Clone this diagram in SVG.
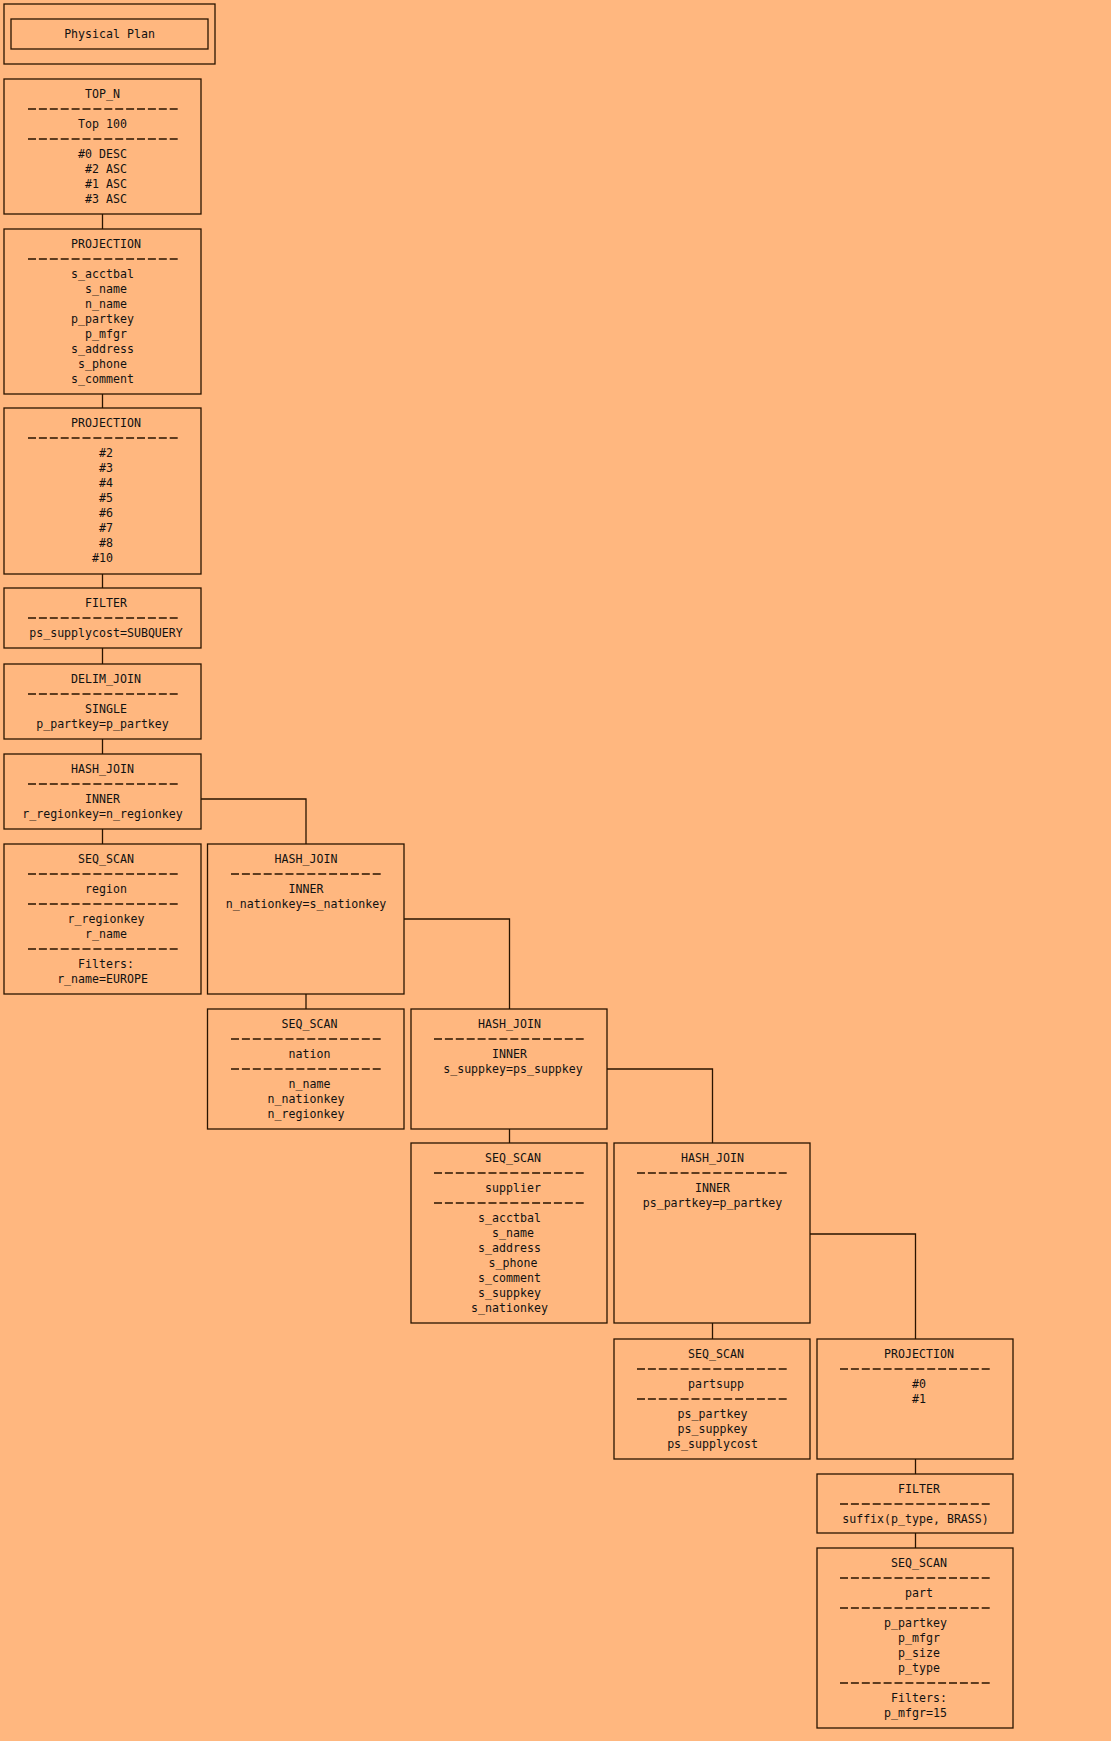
<svg xmlns="http://www.w3.org/2000/svg" width="1111" height="1741" viewBox="0 0 1111 1741">
<style>
.b{fill:none;stroke:#2a1400;stroke-width:1.3}
.s{stroke:#2a1400;stroke-width:1.3;stroke-dasharray:8 2.9}
.c{fill:none;stroke:#2a1400;stroke-width:1.3}
text{font-family:"DejaVu Sans Mono","Liberation Mono",monospace;font-size:11.6px;fill:#111;text-anchor:middle}
</style>
<rect width="1111" height="1741" fill="#FFB77F"/>
<g id="connectors">
<path class="c" d="M102.5 214V229M102.5 394V408M102.5 574V588M102.5 648V664M102.5 739V754M102.5 829V844M201 799H306V844M306 994V1009M404 919H509.5V1009M509.5 1129V1143M607 1069H712.5V1143M712.5 1323V1339M810 1234H915.5V1339M915.5 1459V1474M915.5 1533V1548"/>
</g>
<g id="title"><rect class="b" x="4" y="4" width="211" height="60"/><rect class="b" x="11" y="19" width="197" height="30"/><text x="109.5" y="38">Physical Plan</text></g>
<g id="topn"><rect class="b" x="4" y="79" width="197" height="135"/>
<text x="102.5" y="98">TOP_N</text><line class="s" x1="28" x2="178" y1="109" y2="109"/><text x="102.5" y="128">Top 100</text><line class="s" x1="28" x2="178" y1="139" y2="139"/>
<text x="102.5" y="158">#0 DESC</text><text x="106" y="173">#2 ASC</text><text x="106" y="188">#1 ASC</text><text x="106" y="203">#3 ASC</text></g>
<g id="proj1"><rect class="b" x="4" y="229" width="197" height="165"/>
<text x="106" y="248">PROJECTION</text><line class="s" x1="28" x2="178" y1="259" y2="259"/>
<text x="102.5" y="278">s_acctbal</text><text x="106" y="293">s_name</text><text x="106" y="308">n_name</text><text x="102.5" y="323">p_partkey</text><text x="106" y="338">p_mfgr</text><text x="102.5" y="353">s_address</text><text x="102.5" y="368">s_phone</text><text x="102.5" y="383">s_comment</text></g>
<g id="proj2"><rect class="b" x="4" y="408" width="197" height="166"/>
<text x="106" y="427">PROJECTION</text><line class="s" x1="28" x2="178" y1="438" y2="438"/>
<text x="106" y="457">#2</text><text x="106" y="472">#3</text><text x="106" y="487">#4</text><text x="106" y="502">#5</text><text x="106" y="517">#6</text><text x="106" y="532">#7</text><text x="106" y="547">#8</text><text x="102.5" y="562">#10</text></g>
<g id="filter1"><rect class="b" x="4" y="588" width="197" height="60"/>
<text x="106" y="607">FILTER</text><line class="s" x1="28" x2="178" y1="618" y2="618"/><text x="106" y="637">ps_supplycost=SUBQUERY</text></g>
<g id="delim"><rect class="b" x="4" y="664" width="197" height="75"/>
<text x="106" y="683">DELIM_JOIN</text><line class="s" x1="28" x2="178" y1="694" y2="694"/><text x="106" y="713">SINGLE</text><text x="102.5" y="728">p_partkey=p_partkey</text></g>
<g id="hj1"><rect class="b" x="4" y="754" width="197" height="75"/>
<text x="102.5" y="773">HASH_JOIN</text><line class="s" x1="28" x2="178" y1="784" y2="784"/><text x="102.5" y="803">INNER</text><text x="102.5" y="818">r_regionkey=n_regionkey</text></g>
<g id="region"><rect class="b" x="4" y="844" width="197" height="150"/>
<text x="106" y="863">SEQ_SCAN</text><line class="s" x1="28" x2="178" y1="874" y2="874"/><text x="106" y="893">region</text><line class="s" x1="28" x2="178" y1="904" y2="904"/>
<text x="106" y="923">r_regionkey</text><text x="106" y="938">r_name</text><line class="s" x1="28" x2="178" y1="949" y2="949"/><text x="106" y="968">Filters:</text><text x="102.5" y="983">r_name=EUROPE</text></g>
<g id="hj2"><rect class="b" x="207.5" y="844" width="196.5" height="150"/>
<text x="306" y="863">HASH_JOIN</text><line class="s" x1="231" x2="381" y1="874" y2="874"/><text x="306" y="893">INNER</text><text x="306" y="908">n_nationkey=s_nationkey</text></g>
<g id="nation"><rect class="b" x="207.5" y="1009" width="196.5" height="120"/>
<text x="309.5" y="1028">SEQ_SCAN</text><line class="s" x1="231" x2="381" y1="1039" y2="1039"/><text x="309.5" y="1058">nation</text><line class="s" x1="231" x2="381" y1="1069" y2="1069"/>
<text x="309.5" y="1088">n_name</text><text x="306" y="1103">n_nationkey</text><text x="306" y="1118">n_regionkey</text></g>
<g id="hj3"><rect class="b" x="411" y="1009" width="196" height="120"/>
<text x="509.5" y="1028">HASH_JOIN</text><line class="s" x1="434" x2="584" y1="1039" y2="1039"/><text x="509.5" y="1058">INNER</text><text x="513" y="1073">s_suppkey=ps_suppkey</text></g>
<g id="supplier"><rect class="b" x="411" y="1143" width="196" height="180"/>
<text x="513" y="1162">SEQ_SCAN</text><line class="s" x1="434" x2="584" y1="1173" y2="1173"/><text x="513" y="1192">supplier</text><line class="s" x1="434" x2="584" y1="1203" y2="1203"/>
<text x="509.5" y="1222">s_acctbal</text><text x="513" y="1237">s_name</text><text x="509.5" y="1252">s_address</text><text x="513" y="1267">s_phone</text><text x="509.5" y="1282">s_comment</text><text x="509.5" y="1297">s_suppkey</text><text x="509.5" y="1312">s_nationkey</text></g>
<g id="hj4"><rect class="b" x="614" y="1143" width="196" height="180"/>
<text x="712.5" y="1162">HASH_JOIN</text><line class="s" x1="637" x2="787" y1="1173" y2="1173"/><text x="712.5" y="1192">INNER</text><text x="712.5" y="1207">ps_partkey=p_partkey</text></g>
<g id="partsupp"><rect class="b" x="614" y="1339" width="196" height="120"/>
<text x="716" y="1358">SEQ_SCAN</text><line class="s" x1="637" x2="787" y1="1369" y2="1369"/><text x="716" y="1388">partsupp</text><line class="s" x1="637" x2="787" y1="1399" y2="1399"/>
<text x="712.5" y="1418">ps_partkey</text><text x="712.5" y="1433">ps_suppkey</text><text x="712.5" y="1448">ps_supplycost</text></g>
<g id="proj3"><rect class="b" x="817" y="1339" width="196" height="120"/>
<text x="919" y="1358">PROJECTION</text><line class="s" x1="840" x2="990" y1="1369" y2="1369"/><text x="919" y="1388">#0</text><text x="919" y="1403">#1</text></g>
<g id="filter2"><rect class="b" x="817" y="1474" width="196" height="59"/>
<text x="919" y="1493">FILTER</text><line class="s" x1="840" x2="990" y1="1504" y2="1504"/><text x="915.5" y="1523">suffix(p_type, BRASS)</text></g>
<g id="part"><rect class="b" x="817" y="1548" width="196" height="180"/>
<text x="919" y="1567">SEQ_SCAN</text><line class="s" x1="840" x2="990" y1="1578" y2="1578"/><text x="919" y="1597">part</text><line class="s" x1="840" x2="990" y1="1608" y2="1608"/>
<text x="915.5" y="1627">p_partkey</text><text x="919" y="1642">p_mfgr</text><text x="919" y="1657">p_size</text><text x="919" y="1672">p_type</text><line class="s" x1="840" x2="990" y1="1683" y2="1683"/><text x="919" y="1702">Filters:</text><text x="915.5" y="1717">p_mfgr=15</text></g>
<text x="0" y="1751" style="text-anchor:start">Run Time: real 0.005 user 0.000701 sys 0.000240</text>
</svg>
